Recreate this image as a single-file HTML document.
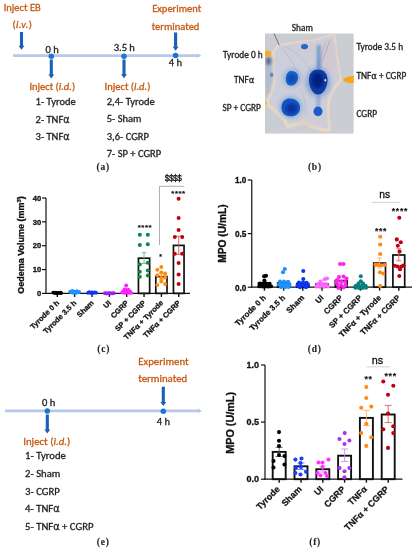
<!DOCTYPE html>
<html><head><meta charset="utf-8"><title>Figure</title>
<style>
html,body{margin:0;padding:0;background:#fff;}
#fig{position:relative;width:416px;height:550px;overflow:hidden;background:#fff;}
svg{display:block;}
</style></head>
<body><div id="fig">
<svg width="416" height="550" viewBox="0 0 416 550">
<line x1="13" y1="55.6" x2="197.8" y2="55.6" stroke="#B9C8E9" stroke-width="2.7"/>
<path d="M197.3,53.2 L201.3,55.6 L197.3,58.0 Z" fill="#B9C8E9"/>
<circle cx="51.3" cy="56.2" r="2.75" fill="#1C75CF"/>
<circle cx="124" cy="56.2" r="2.75" fill="#1C75CF"/>
<circle cx="175.6" cy="55.6" r="2.75" fill="#1C75CF"/>
<path d="M19.95,32.00 L23.05,32.00 L23.05,45.70 L24.45,45.70 L21.50,49.70 L18.55,45.70 L19.95,45.70 Z" fill="#1B60B6"/>
<path d="M49.75,59.60 L52.85,59.60 L52.85,74.40 L54.25,74.40 L51.30,78.40 L48.35,74.40 L49.75,74.40 Z" fill="#1B60B6"/>
<path d="M122.45,59.60 L125.55,59.60 L125.55,74.30 L126.95,74.30 L124.00,78.30 L121.05,74.30 L122.45,74.30 Z" fill="#1B60B6"/>
<path d="M174.05,32.50 L177.15,32.50 L177.15,46.80 L178.55,46.80 L175.60,50.80 L172.65,46.80 L174.05,46.80 Z" fill="#1B60B6"/>
<text class="cal" textLength="37.08" lengthAdjust="spacingAndGlyphs" x="3.70" y="11.20" font-size="10.5" fill="#C55A11" font-family="Carlito, 'Liberation Sans', sans-serif" font-weight="normal" text-anchor="start" stroke="#C55A11" stroke-width="0.3" >Inject EB</text>
<text class="cal" textLength="19.83" lengthAdjust="spacingAndGlyphs" x="12.40" y="27.60" font-size="10.5" fill="#C55A11" font-family="Carlito, 'Liberation Sans', sans-serif" font-weight="normal" text-anchor="start" stroke="#C55A11" stroke-width="0.3" letter-spacing="0.35">(<tspan font-style='italic'>i.v.</tspan>)</text>
<text class="cal" textLength="49.05" lengthAdjust="spacingAndGlyphs" x="152.20" y="12.30" font-size="10.5" fill="#C55A11" font-family="Carlito, 'Liberation Sans', sans-serif" font-weight="normal" text-anchor="start" stroke="#C55A11" stroke-width="0.3" >Experiment</text>
<text class="cal" textLength="47.69" lengthAdjust="spacingAndGlyphs" x="151.70" y="29.60" font-size="10.5" fill="#C55A11" font-family="Carlito, 'Liberation Sans', sans-serif" font-weight="normal" text-anchor="start" stroke="#C55A11" stroke-width="0.3" >terminated</text>
<text class="cal" textLength="13.22" lengthAdjust="spacingAndGlyphs" x="45.60" y="53.30" font-size="10.5" fill="#222222" font-family="Carlito, 'Liberation Sans', sans-serif" font-weight="normal" text-anchor="start" stroke="#222222" stroke-width="0.3" >0 h</text>
<text class="cal" textLength="21.19" lengthAdjust="spacingAndGlyphs" x="113.70" y="51.40" font-size="10.5" fill="#222222" font-family="Carlito, 'Liberation Sans', sans-serif" font-weight="normal" text-anchor="start" stroke="#222222" stroke-width="0.3" >3.5 h</text>
<text class="cal" textLength="13.22" lengthAdjust="spacingAndGlyphs" x="168.80" y="66.20" font-size="10.5" fill="#222222" font-family="Carlito, 'Liberation Sans', sans-serif" font-weight="normal" text-anchor="start" stroke="#222222" stroke-width="0.3" >4 h</text>
<text class="cal" textLength="45.73" lengthAdjust="spacingAndGlyphs" x="29.40" y="89.90" font-size="10.5" fill="#C55A11" font-family="Carlito, 'Liberation Sans', sans-serif" font-weight="normal" text-anchor="start" stroke="#C55A11" stroke-width="0.3" >Inject (<tspan font-style='italic'>i.d.</tspan>)</text>
<text class="cal" textLength="45.73" lengthAdjust="spacingAndGlyphs" x="104.60" y="90.10" font-size="10.5" fill="#C55A11" font-family="Carlito, 'Liberation Sans', sans-serif" font-weight="normal" text-anchor="start" stroke="#C55A11" stroke-width="0.3" >Inject (<tspan font-style='italic'>i.d.</tspan>)</text>
<text class="cal" textLength="40.08" lengthAdjust="spacingAndGlyphs" x="35.60" y="105.00" font-size="10.5" fill="#222222" font-family="Carlito, 'Liberation Sans', sans-serif" font-weight="normal" text-anchor="start" stroke="#222222" stroke-width="0.3" >1- Tyrode</text>
<text class="cal" textLength="34.02" lengthAdjust="spacingAndGlyphs" x="35.60" y="122.50" font-size="10.5" fill="#222222" font-family="Carlito, 'Liberation Sans', sans-serif" font-weight="normal" text-anchor="start" stroke="#222222" stroke-width="0.3" >2- TNF<tspan font-family="'DejaVu Sans', sans-serif" font-size="0.92em">&#945;</tspan></text>
<text class="cal" textLength="34.02" lengthAdjust="spacingAndGlyphs" x="35.60" y="140.00" font-size="10.5" fill="#222222" font-family="Carlito, 'Liberation Sans', sans-serif" font-weight="normal" text-anchor="start" stroke="#222222" stroke-width="0.3" >3- TNF<tspan font-family="'DejaVu Sans', sans-serif" font-size="0.92em">&#945;</tspan></text>
<text class="cal" textLength="48.02" lengthAdjust="spacingAndGlyphs" x="106.80" y="104.90" font-size="10.5" fill="#222222" font-family="Carlito, 'Liberation Sans', sans-serif" font-weight="normal" text-anchor="start" stroke="#222222" stroke-width="0.3" >2,4- Tyrode</text>
<text class="cal" textLength="34.67" lengthAdjust="spacingAndGlyphs" x="106.80" y="122.30" font-size="10.5" fill="#222222" font-family="Carlito, 'Liberation Sans', sans-serif" font-weight="normal" text-anchor="start" stroke="#222222" stroke-width="0.3" >5- Sham</text>
<text class="cal" textLength="42.11" lengthAdjust="spacingAndGlyphs" x="106.80" y="139.70" font-size="10.5" fill="#222222" font-family="Carlito, 'Liberation Sans', sans-serif" font-weight="normal" text-anchor="start" stroke="#222222" stroke-width="0.3" >3,6- CGRP</text>
<text class="cal" textLength="54.41" lengthAdjust="spacingAndGlyphs" x="106.80" y="157.10" font-size="10.5" fill="#222222" font-family="Carlito, 'Liberation Sans', sans-serif" font-weight="normal" text-anchor="start" stroke="#222222" stroke-width="0.3" >7- SP + CGRP</text>
<text x="96.60" y="169.90" font-size="9.5" fill="#222222" font-family="'Liberation Serif', serif" font-weight="bold" text-anchor="start" stroke="#222222" stroke-width="0.1" letter-spacing="0.8">(a)</text>
<line x1="5" y1="410.9" x2="198.5" y2="410.9" stroke="#B9C8E9" stroke-width="2.7"/>
<path d="M198,408.5 L202,410.9 L198,413.29999999999995 Z" fill="#B9C8E9"/>
<circle cx="47.3" cy="411" r="2.75" fill="#1C75CF"/>
<circle cx="163.3" cy="411.2" r="2.75" fill="#1C75CF"/>
<path d="M45.75,414.60 L48.85,414.60 L48.85,429.60 L50.25,429.60 L47.30,433.60 L44.35,429.60 L45.75,429.60 Z" fill="#1B60B6"/>
<path d="M161.75,386.80 L164.85,386.80 L164.85,402.00 L166.25,402.00 L163.30,406.00 L160.35,402.00 L161.75,402.00 Z" fill="#1B60B6"/>
<text class="cal" textLength="50.42" lengthAdjust="spacingAndGlyphs" x="138.20" y="364.90" font-size="10.8" fill="#C55A11" font-family="Carlito, 'Liberation Sans', sans-serif" font-weight="normal" text-anchor="start" stroke="#C55A11" stroke-width="0.3" >Experiment</text>
<text class="cal" textLength="49.03" lengthAdjust="spacingAndGlyphs" x="138.20" y="382.30" font-size="10.8" fill="#C55A11" font-family="Carlito, 'Liberation Sans', sans-serif" font-weight="normal" text-anchor="start" stroke="#C55A11" stroke-width="0.3" >terminated</text>
<text class="cal" textLength="13.22" lengthAdjust="spacingAndGlyphs" x="42.00" y="405.50" font-size="10.5" fill="#222222" font-family="Carlito, 'Liberation Sans', sans-serif" font-weight="normal" text-anchor="start" stroke="#222222" stroke-width="0.3" >0 h</text>
<text class="cal" textLength="13.22" lengthAdjust="spacingAndGlyphs" x="156.80" y="425.00" font-size="10.5" fill="#222222" font-family="Carlito, 'Liberation Sans', sans-serif" font-weight="normal" text-anchor="start" stroke="#222222" stroke-width="0.3" >4 h</text>
<text class="cal" textLength="47.02" lengthAdjust="spacingAndGlyphs" x="23.20" y="445.00" font-size="10.8" fill="#C55A11" font-family="Carlito, 'Liberation Sans', sans-serif" font-weight="normal" text-anchor="start" stroke="#C55A11" stroke-width="0.3" >Inject (<tspan font-style='italic'>i.d.</tspan>)</text>
<text class="cal" textLength="40.80" lengthAdjust="spacingAndGlyphs" x="25.10" y="459.30" font-size="10.7" fill="#222222" font-family="Carlito, 'Liberation Sans', sans-serif" font-weight="normal" text-anchor="start" stroke="#222222" stroke-width="0.3" >1- Tyrode</text>
<text class="cal" textLength="35.30" lengthAdjust="spacingAndGlyphs" x="25.10" y="476.90" font-size="10.7" fill="#222222" font-family="Carlito, 'Liberation Sans', sans-serif" font-weight="normal" text-anchor="start" stroke="#222222" stroke-width="0.3" >2- Sham</text>
<text class="cal" textLength="34.78" lengthAdjust="spacingAndGlyphs" x="25.10" y="494.50" font-size="10.7" fill="#222222" font-family="Carlito, 'Liberation Sans', sans-serif" font-weight="normal" text-anchor="start" stroke="#222222" stroke-width="0.3" >3- CGRP</text>
<text class="cal" textLength="34.61" lengthAdjust="spacingAndGlyphs" x="25.10" y="512.10" font-size="10.7" fill="#222222" font-family="Carlito, 'Liberation Sans', sans-serif" font-weight="normal" text-anchor="start" stroke="#222222" stroke-width="0.3" >4- TNF<tspan font-family="'DejaVu Sans', sans-serif" font-size="0.92em">&#945;</tspan></text>
<text class="cal" textLength="68.44" lengthAdjust="spacingAndGlyphs" x="25.10" y="529.70" font-size="10.7" fill="#222222" font-family="Carlito, 'Liberation Sans', sans-serif" font-weight="normal" text-anchor="start" stroke="#222222" stroke-width="0.3" >5- TNF<tspan font-family="'DejaVu Sans', sans-serif" font-size="0.92em">&#945;</tspan> + CGRP</text>
<text x="96.70" y="545.20" font-size="9.5" fill="#222222" font-family="'Liberation Serif', serif" font-weight="bold" text-anchor="start" stroke="#222222" stroke-width="0.1" letter-spacing="0.8">(e)</text>
<defs>
<filter id="bl1" x="-50%" y="-50%" width="200%" height="200%"><feGaussianBlur stdDeviation="1.4"/></filter>
<filter id="bl2" x="-50%" y="-50%" width="200%" height="200%"><feGaussianBlur stdDeviation="0.7"/></filter>
<filter id="bl3" x="-50%" y="-50%" width="200%" height="200%"><feGaussianBlur stdDeviation="2.4"/></filter>
<filter id="bl05" x="-20%" y="-20%" width="140%" height="140%"><feGaussianBlur stdDeviation="0.45"/></filter>
<clipPath id="pclip"><rect x="265" y="33.3" width="88.80000000000001" height="100.50000000000001"/></clipPath>
</defs>
<g clip-path="url(#pclip)">
<rect x="265" y="33.3" width="88.80000000000001" height="100.50000000000001" fill="#CACDD2"/>
<g filter="url(#bl05)">
<path d="M279,45 C290,43 300,41.5 311,40.6 C320,39 328,36 334,34 C336,48 338,64 341,79.5 C337,84 331,92 329,100 C327.5,110 328.5,120 329.5,131 C323,130 317,128.5 312,126.5 C309,124 306,122.5 303,123 C297,124 292,125.5 287.5,127 C286,122 285,120 283,118 C278,113 272,108 267,104 C269,97 272,90 274.5,82 C274,76 273.5,70 273.5,64 C273.5,59 273.2,55 273.4,52 C275,49 277,47 279,45 Z" fill="#CDCEDB"/>
<path d="M279,45 C290,43 300,41.5 311,40.6 C320,39 328,36 334,34" fill="none" stroke="#E6D6C8" stroke-width="2.0"/>
<path d="M334,34 C336,48 338,64 341,79.5" fill="none" stroke="#E6D6C8" stroke-width="2.2"/>
<path d="M341,79.5 C337,84 331,92 329,100 C327.5,110 328.5,120 329.5,131" fill="none" stroke="#E6D6C8" stroke-width="3.0"/>
<path d="M329.5,131 C323,130 317,128.5 312,126.5 C309,124 306,122.5 303,123 C297,124 292,125.5 287.5,127 C286,122 285,120 283,118 C278,113 272,108 267,104 C269,97 272,90 274.5,82" fill="none" stroke="#E6D6C8" stroke-width="3.6" stroke-linejoin="round"/>
<path d="M274.5,82 C274,76 273.5,70 273.5,64 C273.5,59 273.2,55 273.4,52 C275,49 277,47 279,45" fill="none" stroke="#E6D6C8" stroke-width="2.6"/>
<path d="M283,47 C300,44 318,41 332,37 C334,50 336,62 338,76 C330,70 318,60 300,55 C292,52 287,50 283,47 Z" fill="#D2C8D2" opacity="0.5" filter="url(#bl3)"/>
<ellipse cx="310" cy="121" rx="14" ry="5" fill="#D6CCCB" opacity="0.6" filter="url(#bl3)"/>
<ellipse cx="330" cy="58" rx="5" ry="16" fill="#D3C7CD" opacity="0.6" filter="url(#bl3)"/>
<path d="M282,49 C290,58 296,66 300,80" stroke="#9C98AE" stroke-width="0.5" fill="none" opacity="0.7"/>
<path d="M286,47 C296,52 306,60 311,72" stroke="#A09CB2" stroke-width="0.45" fill="none" opacity="0.6"/>
<path d="M300,88 C304,96 306,104 306,118" stroke="#A09CB2" stroke-width="0.45" fill="none" opacity="0.6"/>
<path d="M265,57 L272,57 L272.5,80 L270,92 L265,98 Z" fill="#B2BBCA" filter="url(#bl1)"/>
<ellipse cx="268.5" cy="61" rx="2.6" ry="4" fill="#5A6A88" filter="url(#bl1)"/>
<ellipse cx="292" cy="78" rx="8.5" ry="8.5" fill="#3C88D2" opacity="0.45" filter="url(#bl3)"/>
<ellipse cx="318" cy="82" rx="12" ry="14.5" fill="#3478CC" opacity="0.5" filter="url(#bl3)"/>
<ellipse cx="290.8" cy="107.3" rx="11" ry="10.5" fill="#3A92D8" opacity="0.55" filter="url(#bl3)"/>
<path d="M317.3,45 L320.3,45 L320.8,70 L316.8,70 Z" fill="#4A82C8" opacity="0.8" filter="url(#bl1)"/>
<path d="M316.5,94 L320,94 L320,107 L316.5,107 Z" fill="#5A8ACB" opacity="0.55" filter="url(#bl1)"/>
<path d="M291,71 C296,71 298.5,74 298,78.5 C297.5,83 294,86 290,85.5 C286.5,85 285.5,81 286,77.5 C286.5,74 288,71 291,71 Z" fill="#1560CC" filter="url(#bl2)"/>
<ellipse cx="292" cy="78.5" rx="3.6" ry="4" fill="#0B46B0" filter="url(#bl1)"/>
<path d="M318,69.5 C324,69.5 328,74 327.5,81 C327,88 323,94.5 318,94.5 C313,94.5 309.5,88 309,81 C308.5,74 312,69.5 318,69.5 Z" fill="#0E3CA6" filter="url(#bl2)"/>
<ellipse cx="317.5" cy="80.5" rx="6" ry="8" fill="#05247F" filter="url(#bl1)"/>
<path d="M289,98.5 C295,98 300,102 300,107.5 C300,113 296,116.5 290,116.3 C284.5,116 281.5,112.5 281.5,107.5 C281.5,103 284,99 289,98.5 Z" fill="#1452C4" filter="url(#bl2)"/>
<ellipse cx="291.5" cy="108.5" rx="5.5" ry="5" fill="#08329A" filter="url(#bl1)"/>
<ellipse cx="304.5" cy="46.6" rx="3.5" ry="2.7" fill="#2266C6" filter="url(#bl2)"/>
<ellipse cx="318" cy="111.4" rx="4.5" ry="4.8" fill="#1A5CC8" filter="url(#bl2)"/>
<ellipse cx="271.6" cy="74.8" rx="1.8" ry="2.2" fill="#5A90C8" filter="url(#bl2)"/>
<ellipse cx="325.3" cy="80.2" rx="0.8" ry="1.2" fill="#FFFFFF"/>
<path d="M330,40 L322,62" stroke="#8A8296" stroke-width="0.5" fill="none" opacity="0.8"/>
<path d="M326,42 L318,66" stroke="#8A8296" stroke-width="0.4" fill="none" opacity="0.6"/>
<ellipse cx="267.5" cy="53.6" rx="3.6" ry="3.2" fill="#F8AA22"/>
<path d="M342.5,80 C345,77.5 349,76 354,75.8 L354,83 C349,83.5 345,82.5 342.5,80 Z" fill="#FFA414"/>
<ellipse cx="265.6" cy="103.4" rx="1.6" ry="1.8" fill="#F2B844"/>
<line x1="274" y1="33.3" x2="279.2" y2="45.3" stroke="#4A4A4A" stroke-width="0.7"/>
</g>
</g>
<text class="cal" textLength="21.05" lengthAdjust="spacingAndGlyphs" x="291.80" y="30.60" font-size="9.3" fill="#222222" font-family="Carlito, 'Liberation Sans', sans-serif" font-weight="normal" text-anchor="start" stroke="#222222" stroke-width="0.3" >Sham</text>
<text class="cal" textLength="39.62" lengthAdjust="spacingAndGlyphs" x="223.00" y="58.00" font-size="9.3" fill="#222222" font-family="Carlito, 'Liberation Sans', sans-serif" font-weight="normal" text-anchor="start" stroke="#222222" stroke-width="0.3" >Tyrode 0 h</text>
<text class="cal" textLength="20.45" lengthAdjust="spacingAndGlyphs" x="234.00" y="83.20" font-size="9.3" fill="#222222" font-family="Carlito, 'Liberation Sans', sans-serif" font-weight="normal" text-anchor="start" stroke="#222222" stroke-width="0.3" >TNF<tspan font-family="'DejaVu Sans', sans-serif" font-size="0.92em">&#945;</tspan></text>
<text class="cal" textLength="38.50" lengthAdjust="spacingAndGlyphs" x="222.40" y="111.10" font-size="9.3" fill="#222222" font-family="Carlito, 'Liberation Sans', sans-serif" font-weight="normal" text-anchor="start" stroke="#222222" stroke-width="0.3" >SP + CGRP</text>
<text class="cal" textLength="46.69" lengthAdjust="spacingAndGlyphs" x="356.40" y="50.00" font-size="9.3" fill="#222222" font-family="Carlito, 'Liberation Sans', sans-serif" font-weight="normal" text-anchor="start" stroke="#222222" stroke-width="0.3" >Tyrode 3.5 h</text>
<text class="cal" textLength="49.89" lengthAdjust="spacingAndGlyphs" x="356.40" y="78.70" font-size="9.3" fill="#222222" font-family="Carlito, 'Liberation Sans', sans-serif" font-weight="normal" text-anchor="start" stroke="#222222" stroke-width="0.3" >TNF<tspan font-family="'DejaVu Sans', sans-serif" font-size="0.92em">&#945;</tspan> + CGRP</text>
<text class="cal" textLength="20.59" lengthAdjust="spacingAndGlyphs" x="356.40" y="116.90" font-size="9.3" fill="#222222" font-family="Carlito, 'Liberation Sans', sans-serif" font-weight="normal" text-anchor="start" stroke="#222222" stroke-width="0.3" >CGRP</text>
<text x="307.90" y="170.30" font-size="9.5" fill="#222222" font-family="'Liberation Serif', serif" font-weight="bold" text-anchor="start" stroke="#222222" stroke-width="0.1" letter-spacing="0.8">(b)</text>
<line x1="46" y1="198" x2="46" y2="294.0" stroke="#111" stroke-width="1.2"/>
<line x1="45.4" y1="293.4" x2="190" y2="293.4" stroke="#111" stroke-width="1.2"/>
<line x1="42" y1="198" x2="46" y2="198" stroke="#111" stroke-width="1.2"/>
<text x="41.20" y="200.70" font-size="7.6" fill="#111" font-family="'Liberation Sans', Arial, sans-serif" font-weight="bold" text-anchor="end" stroke="#111" stroke-width="0.3" >40</text>
<line x1="42" y1="221.85" x2="46" y2="221.85" stroke="#111" stroke-width="1.2"/>
<text x="41.20" y="224.55" font-size="7.6" fill="#111" font-family="'Liberation Sans', Arial, sans-serif" font-weight="bold" text-anchor="end" stroke="#111" stroke-width="0.3" >30</text>
<line x1="42" y1="245.7" x2="46" y2="245.7" stroke="#111" stroke-width="1.2"/>
<text x="41.20" y="248.40" font-size="7.6" fill="#111" font-family="'Liberation Sans', Arial, sans-serif" font-weight="bold" text-anchor="end" stroke="#111" stroke-width="0.3" >20</text>
<line x1="42" y1="269.55" x2="46" y2="269.55" stroke="#111" stroke-width="1.2"/>
<text x="41.20" y="272.25" font-size="7.6" fill="#111" font-family="'Liberation Sans', Arial, sans-serif" font-weight="bold" text-anchor="end" stroke="#111" stroke-width="0.3" >10</text>
<line x1="42" y1="293.4" x2="46" y2="293.4" stroke="#111" stroke-width="1.2"/>
<text x="41.20" y="296.10" font-size="7.6" fill="#111" font-family="'Liberation Sans', Arial, sans-serif" font-weight="bold" text-anchor="end" stroke="#111" stroke-width="0.3" >0</text>
<line x1="57.3" y1="293.4" x2="57.3" y2="296.9" stroke="#111" stroke-width="1.4"/>
<line x1="74.65" y1="293.4" x2="74.65" y2="296.9" stroke="#111" stroke-width="1.4"/>
<line x1="92.0" y1="293.4" x2="92.0" y2="296.9" stroke="#111" stroke-width="1.4"/>
<line x1="109.35" y1="293.4" x2="109.35" y2="296.9" stroke="#111" stroke-width="1.4"/>
<line x1="126.7" y1="293.4" x2="126.7" y2="296.9" stroke="#111" stroke-width="1.4"/>
<line x1="144.05" y1="293.4" x2="144.05" y2="296.9" stroke="#111" stroke-width="1.4"/>
<line x1="161.4" y1="293.4" x2="161.4" y2="296.9" stroke="#111" stroke-width="1.4"/>
<line x1="178.75" y1="293.4" x2="178.75" y2="296.9" stroke="#111" stroke-width="1.4"/>
<rect x="138.45" y="258.20" width="11.20" height="35.20" fill="none" stroke="#111" stroke-width="1.7"/>
<rect x="155.80" y="276.60" width="11.20" height="16.80" fill="none" stroke="#111" stroke-width="1.7"/>
<rect x="173.45" y="245.40" width="10.60" height="48.00" fill="none" stroke="#111" stroke-width="1.7"/>
<line x1="52.3" y1="292.4" x2="62.3" y2="292.4" stroke="#111" stroke-width="1"/>
<line x1="69.65" y1="292.4" x2="79.65" y2="292.4" stroke="#111" stroke-width="1"/>
<line x1="87.0" y1="292.4" x2="97.0" y2="292.4" stroke="#111" stroke-width="1"/>
<line x1="104.35" y1="292.4" x2="114.35" y2="292.4" stroke="#111" stroke-width="1"/>
<line x1="121.7" y1="292.4" x2="131.7" y2="292.4" stroke="#111" stroke-width="1"/>
<line x1="144.05" y1="252.7" x2="144.05" y2="263.5" stroke="#5DBB9A" stroke-width="0.9"/>
<line x1="141.55" y1="252.7" x2="146.55" y2="252.7" stroke="#5DBB9A" stroke-width="0.9"/>
<line x1="141.55" y1="263.5" x2="146.55" y2="263.5" stroke="#5DBB9A" stroke-width="0.9"/>
<line x1="178.75" y1="236.2" x2="178.75" y2="254.4" stroke="#E05050" stroke-width="0.9"/>
<line x1="176.25" y1="236.2" x2="181.25" y2="236.2" stroke="#E05050" stroke-width="0.9"/>
<line x1="176.25" y1="254.4" x2="181.25" y2="254.4" stroke="#E05050" stroke-width="0.9"/>
<line x1="161.4" y1="273.5" x2="161.4" y2="279.5" stroke="#FFB070" stroke-width="0.9"/>
<line x1="158.9" y1="273.5" x2="163.9" y2="273.5" stroke="#FFB070" stroke-width="0.9"/>
<line x1="158.9" y1="279.5" x2="163.9" y2="279.5" stroke="#FFB070" stroke-width="0.9"/>
<circle cx="53.30" cy="292.50" r="1.85" fill="#000000"/>
<circle cx="54.44" cy="293.00" r="1.85" fill="#000000"/>
<circle cx="55.59" cy="292.70" r="1.85" fill="#000000"/>
<circle cx="56.73" cy="293.20" r="1.85" fill="#000000"/>
<circle cx="57.87" cy="292.80" r="1.85" fill="#000000"/>
<circle cx="59.01" cy="293.00" r="1.85" fill="#000000"/>
<circle cx="60.16" cy="292.60" r="1.85" fill="#000000"/>
<circle cx="61.30" cy="293.10" r="1.85" fill="#000000"/>
<circle cx="70.15" cy="291.50" r="1.85" fill="#1E90FF"/>
<circle cx="71.28" cy="292.50" r="1.85" fill="#1E90FF"/>
<circle cx="72.40" cy="290.80" r="1.85" fill="#1E90FF"/>
<circle cx="73.53" cy="292.80" r="1.85" fill="#1E90FF"/>
<circle cx="74.65" cy="291.60" r="1.85" fill="#1E90FF"/>
<circle cx="75.78" cy="293.00" r="1.85" fill="#1E90FF"/>
<circle cx="76.90" cy="291.20" r="1.85" fill="#1E90FF"/>
<circle cx="78.03" cy="292.40" r="1.85" fill="#1E90FF"/>
<circle cx="79.15" cy="291.90" r="1.85" fill="#1E90FF"/>
<circle cx="88.00" cy="292.80" r="1.85" fill="#0A35F5"/>
<circle cx="89.33" cy="292.20" r="1.85" fill="#0A35F5"/>
<circle cx="90.67" cy="293.00" r="1.85" fill="#0A35F5"/>
<circle cx="92.00" cy="292.40" r="1.85" fill="#0A35F5"/>
<circle cx="93.33" cy="292.90" r="1.85" fill="#0A35F5"/>
<circle cx="94.67" cy="292.30" r="1.85" fill="#0A35F5"/>
<circle cx="96.00" cy="292.70" r="1.85" fill="#0A35F5"/>
<circle cx="104.85" cy="293.20" r="1.85" fill="#A21EF2"/>
<circle cx="106.35" cy="293.40" r="1.85" fill="#A21EF2"/>
<circle cx="107.85" cy="293.30" r="1.85" fill="#A21EF2"/>
<circle cx="109.35" cy="293.20" r="1.85" fill="#A21EF2"/>
<circle cx="110.85" cy="293.40" r="1.85" fill="#A21EF2"/>
<circle cx="112.35" cy="293.30" r="1.85" fill="#A21EF2"/>
<circle cx="113.85" cy="293.20" r="1.85" fill="#A21EF2"/>
<circle cx="122.20" cy="292.50" r="1.85" fill="#FF22FF"/>
<circle cx="123.49" cy="291.00" r="1.85" fill="#FF22FF"/>
<circle cx="124.77" cy="293.00" r="1.85" fill="#FF22FF"/>
<circle cx="126.06" cy="290.00" r="1.85" fill="#FF22FF"/>
<circle cx="127.34" cy="292.20" r="1.85" fill="#FF22FF"/>
<circle cx="128.63" cy="292.80" r="1.85" fill="#FF22FF"/>
<circle cx="129.91" cy="291.50" r="1.85" fill="#FF22FF"/>
<circle cx="131.20" cy="293.00" r="1.85" fill="#FF22FF"/>
<circle cx="126.20" cy="285.60" r="2.0" fill="#FF22FF"/>
<circle cx="124.70" cy="289.60" r="2.0" fill="#FF22FF"/>
<circle cx="128.20" cy="289.80" r="2.0" fill="#FF22FF"/>
<circle cx="123.20" cy="291.50" r="2.0" fill="#FF22FF"/>
<circle cx="129.70" cy="291.50" r="2.0" fill="#FF22FF"/>
<circle cx="139.80" cy="234.80" r="2.0" fill="#0B8A3E"/>
<circle cx="147.80" cy="234.80" r="2.0" fill="#0B8A3E"/>
<circle cx="139.80" cy="245.00" r="2.0" fill="#0B8A3E"/>
<circle cx="147.80" cy="244.30" r="2.0" fill="#0B8A3E"/>
<circle cx="139.80" cy="264.40" r="2.0" fill="#0B8A3E"/>
<circle cx="147.80" cy="262.80" r="2.0" fill="#0B8A3E"/>
<circle cx="139.80" cy="271.80" r="2.0" fill="#0B8A3E"/>
<circle cx="147.80" cy="270.60" r="2.0" fill="#0B8A3E"/>
<circle cx="139.80" cy="276.80" r="2.0" fill="#0B8A3E"/>
<circle cx="147.80" cy="275.50" r="2.0" fill="#0B8A3E"/>
<circle cx="161.30" cy="267.00" r="2.0" fill="#FF8A10"/>
<circle cx="157.30" cy="269.70" r="2.0" fill="#FF8A10"/>
<circle cx="161.30" cy="272.60" r="2.0" fill="#FF8A10"/>
<circle cx="165.10" cy="273.50" r="2.0" fill="#FF8A10"/>
<circle cx="157.30" cy="275.20" r="2.0" fill="#FF8A10"/>
<circle cx="161.30" cy="277.70" r="2.0" fill="#FF8A10"/>
<circle cx="165.10" cy="277.50" r="2.0" fill="#FF8A10"/>
<circle cx="161.30" cy="281.40" r="2.0" fill="#FF8A10"/>
<circle cx="157.30" cy="285.10" r="2.0" fill="#FF8A10"/>
<circle cx="165.10" cy="284.00" r="2.0" fill="#FF8A10"/>
<circle cx="178.60" cy="198.70" r="2.0" fill="#C00010"/>
<circle cx="178.60" cy="218.00" r="2.0" fill="#C00010"/>
<circle cx="178.60" cy="230.00" r="2.0" fill="#C00010"/>
<circle cx="174.80" cy="236.90" r="2.0" fill="#C00010"/>
<circle cx="182.20" cy="236.90" r="2.0" fill="#C00010"/>
<circle cx="174.80" cy="253.70" r="2.0" fill="#C00010"/>
<circle cx="182.20" cy="253.70" r="2.0" fill="#C00010"/>
<circle cx="178.60" cy="263.00" r="2.0" fill="#C00010"/>
<circle cx="178.60" cy="274.40" r="2.0" fill="#C00010"/>
<circle cx="178.60" cy="284.00" r="2.0" fill="#C00010"/>
<text x="144.93" y="230.12" font-size="7.8" fill="#111" font-family="'Liberation Sans', Arial, sans-serif" font-weight="bold" text-anchor="middle" stroke="#111" stroke-width="0.15" letter-spacing="0.55">****</text>
<text x="160.60" y="258.56" font-size="7.0" fill="#111" font-family="'Liberation Sans', Arial, sans-serif" font-weight="bold" text-anchor="middle" stroke="#111" stroke-width="0.15" letter-spacing="0.0">*</text>
<text x="178.47" y="196.12" font-size="7.8" fill="#111" font-family="'Liberation Sans', Arial, sans-serif" font-weight="bold" text-anchor="middle" stroke="#111" stroke-width="0.15" letter-spacing="0.55">****</text>
<path d="M159.5,245 L159.5,186.3 L184.2,186.3" fill="none" stroke="#999" stroke-width="0.8"/>
<text x="173.10" y="180.90" font-size="8.2" fill="#111" font-family="'Liberation Sans', Arial, sans-serif" font-weight="normal" text-anchor="middle" stroke="#111" stroke-width="0.3" letter-spacing="-0.35">$$$$</text>
<text transform="translate(20.30,245.00) rotate(-90)" font-size="9" font-family="'Liberation Sans', Arial, sans-serif" font-weight="bold" text-anchor="middle" fill="#111" stroke="#111" stroke-width="0.3" dy="3.24">Oedema Volume (mm<tspan font-size='6' dy='-3'>3</tspan><tspan dy='3'>)</tspan></text>
<text transform="translate(55.80,299.60) rotate(-45)" font-size="7.5" font-family="'Liberation Sans', Arial, sans-serif" font-weight="bold" text-anchor="end" fill="#111" stroke="#111" stroke-width="0.25" dy="5.40">Tyrode 0 h</text>
<text transform="translate(73.15,299.60) rotate(-45)" font-size="7.5" font-family="'Liberation Sans', Arial, sans-serif" font-weight="bold" text-anchor="end" fill="#111" stroke="#111" stroke-width="0.25" dy="5.40">Tyrode 3.5 h</text>
<text transform="translate(90.50,299.60) rotate(-45)" font-size="7.5" font-family="'Liberation Sans', Arial, sans-serif" font-weight="bold" text-anchor="end" fill="#111" stroke="#111" stroke-width="0.25" dy="5.40">Sham</text>
<text transform="translate(107.85,299.60) rotate(-45)" font-size="7.5" font-family="'Liberation Sans', Arial, sans-serif" font-weight="bold" text-anchor="end" fill="#111" stroke="#111" stroke-width="0.25" dy="5.40">UI</text>
<text transform="translate(125.20,299.60) rotate(-45)" font-size="7.5" font-family="'Liberation Sans', Arial, sans-serif" font-weight="bold" text-anchor="end" fill="#111" stroke="#111" stroke-width="0.25" dy="5.40">CGRP</text>
<text transform="translate(142.55,299.60) rotate(-45)" font-size="7.5" font-family="'Liberation Sans', Arial, sans-serif" font-weight="bold" text-anchor="end" fill="#111" stroke="#111" stroke-width="0.25" dy="5.40">SP + CGRP</text>
<text transform="translate(159.90,299.60) rotate(-45)" font-size="7.5" font-family="'Liberation Sans', Arial, sans-serif" font-weight="bold" text-anchor="end" fill="#111" stroke="#111" stroke-width="0.25" dy="5.40">TNF&#945; + Tyrode</text>
<text transform="translate(177.25,299.60) rotate(-45)" font-size="7.5" font-family="'Liberation Sans', Arial, sans-serif" font-weight="bold" text-anchor="end" fill="#111" stroke="#111" stroke-width="0.25" dy="5.40">TNF&#945; + CGRP</text>
<text x="97.20" y="351.50" font-size="9.5" fill="#222222" font-family="'Liberation Serif', serif" font-weight="bold" text-anchor="start" stroke="#222222" stroke-width="0.1" letter-spacing="0.8">(c)</text>
<line x1="251.75" y1="180.0" x2="251.75" y2="287.8" stroke="#111" stroke-width="1.2"/>
<line x1="251.15" y1="287.2" x2="412" y2="287.2" stroke="#111" stroke-width="1.2"/>
<line x1="247.75" y1="180.0" x2="251.75" y2="180.0" stroke="#111" stroke-width="1.2"/>
<text x="246.30" y="183.48" font-size="8.2" fill="#111" font-family="'Liberation Sans', Arial, sans-serif" font-weight="bold" text-anchor="end" stroke="#111" stroke-width="0.3" >1.0</text>
<line x1="247.75" y1="233.6" x2="251.75" y2="233.6" stroke="#111" stroke-width="1.2"/>
<text x="246.30" y="237.08" font-size="8.2" fill="#111" font-family="'Liberation Sans', Arial, sans-serif" font-weight="bold" text-anchor="end" stroke="#111" stroke-width="0.3" >0.5</text>
<line x1="247.75" y1="287.2" x2="251.75" y2="287.2" stroke="#111" stroke-width="1.2"/>
<text x="246.30" y="290.68" font-size="8.2" fill="#111" font-family="'Liberation Sans', Arial, sans-serif" font-weight="bold" text-anchor="end" stroke="#111" stroke-width="0.3" >0.0</text>
<line x1="264.4" y1="287.2" x2="264.4" y2="290.7" stroke="#111" stroke-width="1.4"/>
<line x1="283.59999999999997" y1="287.2" x2="283.59999999999997" y2="290.7" stroke="#111" stroke-width="1.4"/>
<line x1="302.79999999999995" y1="287.2" x2="302.79999999999995" y2="290.7" stroke="#111" stroke-width="1.4"/>
<line x1="322.0" y1="287.2" x2="322.0" y2="290.7" stroke="#111" stroke-width="1.4"/>
<line x1="341.2" y1="287.2" x2="341.2" y2="290.7" stroke="#111" stroke-width="1.4"/>
<line x1="360.4" y1="287.2" x2="360.4" y2="290.7" stroke="#111" stroke-width="1.4"/>
<line x1="379.59999999999997" y1="287.2" x2="379.59999999999997" y2="290.7" stroke="#111" stroke-width="1.4"/>
<line x1="398.79999999999995" y1="287.2" x2="398.79999999999995" y2="290.7" stroke="#111" stroke-width="1.4"/>
<rect x="258.50" y="283.00" width="11.80" height="4.20" fill="none" stroke="#111" stroke-width="1.7"/>
<rect x="277.70" y="283.00" width="11.80" height="4.20" fill="none" stroke="#111" stroke-width="1.7"/>
<rect x="296.90" y="283.50" width="11.80" height="3.70" fill="none" stroke="#111" stroke-width="1.7"/>
<rect x="316.10" y="284.00" width="11.80" height="3.20" fill="none" stroke="#111" stroke-width="1.7"/>
<rect x="335.30" y="280.60" width="11.80" height="6.60" fill="none" stroke="#111" stroke-width="1.7"/>
<rect x="354.50" y="286.00" width="11.80" height="1.20" fill="none" stroke="#111" stroke-width="1.7"/>
<rect x="373.70" y="263.10" width="11.80" height="24.10" fill="none" stroke="#111" stroke-width="1.7"/>
<rect x="392.90" y="255.00" width="11.80" height="32.20" fill="none" stroke="#111" stroke-width="1.7"/>
<circle cx="264.10" cy="276.30" r="2.05" fill="#000000"/>
<circle cx="266.00" cy="275.70" r="2.05" fill="#000000"/>
<circle cx="264.40" cy="280.50" r="2.05" fill="#000000"/>
<circle cx="260.00" cy="283.50" r="2.05" fill="#000000"/>
<circle cx="263.00" cy="283.50" r="2.05" fill="#000000"/>
<circle cx="266.00" cy="283.50" r="2.05" fill="#000000"/>
<circle cx="269.50" cy="283.80" r="2.05" fill="#000000"/>
<circle cx="259.50" cy="286.30" r="2.05" fill="#000000"/>
<circle cx="262.50" cy="286.50" r="2.05" fill="#000000"/>
<circle cx="265.50" cy="286.50" r="2.05" fill="#000000"/>
<circle cx="268.50" cy="286.50" r="2.05" fill="#000000"/>
<circle cx="271.00" cy="286.30" r="2.05" fill="#000000"/>
<circle cx="284.80" cy="269.00" r="2.05" fill="#1E90FF"/>
<circle cx="283.00" cy="272.20" r="2.05" fill="#1E90FF"/>
<circle cx="280.00" cy="281.50" r="2.05" fill="#1E90FF"/>
<circle cx="284.00" cy="281.50" r="2.05" fill="#1E90FF"/>
<circle cx="288.00" cy="281.80" r="2.05" fill="#1E90FF"/>
<circle cx="279.00" cy="284.50" r="2.05" fill="#1E90FF"/>
<circle cx="282.50" cy="284.50" r="2.05" fill="#1E90FF"/>
<circle cx="286.00" cy="284.50" r="2.05" fill="#1E90FF"/>
<circle cx="289.50" cy="284.50" r="2.05" fill="#1E90FF"/>
<circle cx="281.00" cy="287.00" r="2.05" fill="#1E90FF"/>
<circle cx="285.00" cy="287.20" r="2.05" fill="#1E90FF"/>
<circle cx="288.50" cy="287.00" r="2.05" fill="#1E90FF"/>
<circle cx="303.30" cy="271.00" r="2.05" fill="#0A35F5"/>
<circle cx="303.30" cy="279.00" r="2.05" fill="#0A35F5"/>
<circle cx="299.00" cy="282.50" r="2.05" fill="#0A35F5"/>
<circle cx="303.00" cy="282.50" r="2.05" fill="#0A35F5"/>
<circle cx="306.50" cy="282.80" r="2.05" fill="#0A35F5"/>
<circle cx="297.50" cy="285.50" r="2.05" fill="#0A35F5"/>
<circle cx="301.00" cy="285.50" r="2.05" fill="#0A35F5"/>
<circle cx="304.50" cy="285.50" r="2.05" fill="#0A35F5"/>
<circle cx="308.00" cy="285.50" r="2.05" fill="#0A35F5"/>
<circle cx="300.00" cy="287.30" r="2.05" fill="#0A35F5"/>
<circle cx="306.00" cy="287.30" r="2.05" fill="#0A35F5"/>
<circle cx="324.60" cy="279.30" r="2.05" fill="#FF66FF"/>
<circle cx="327.00" cy="278.50" r="2.05" fill="#FF66FF"/>
<circle cx="320.50" cy="281.50" r="2.05" fill="#FF66FF"/>
<circle cx="318.00" cy="284.00" r="2.05" fill="#FF66FF"/>
<circle cx="322.00" cy="284.00" r="2.05" fill="#FF66FF"/>
<circle cx="326.00" cy="284.00" r="2.05" fill="#FF66FF"/>
<circle cx="316.50" cy="286.50" r="2.05" fill="#FF66FF"/>
<circle cx="320.00" cy="286.80" r="2.05" fill="#FF66FF"/>
<circle cx="324.00" cy="286.80" r="2.05" fill="#FF66FF"/>
<circle cx="328.00" cy="286.50" r="2.05" fill="#FF66FF"/>
<circle cx="340.10" cy="264.00" r="2.05" fill="#FF22EE"/>
<circle cx="343.50" cy="264.00" r="2.05" fill="#FF22EE"/>
<circle cx="339.00" cy="277.00" r="2.05" fill="#FF22EE"/>
<circle cx="343.50" cy="276.50" r="2.05" fill="#FF22EE"/>
<circle cx="346.50" cy="278.50" r="2.05" fill="#FF22EE"/>
<circle cx="337.00" cy="280.00" r="2.05" fill="#FF22EE"/>
<circle cx="341.00" cy="281.50" r="2.05" fill="#FF22EE"/>
<circle cx="345.00" cy="282.00" r="2.05" fill="#FF22EE"/>
<circle cx="337.50" cy="284.50" r="2.05" fill="#FF22EE"/>
<circle cx="341.30" cy="285.00" r="2.05" fill="#FF22EE"/>
<circle cx="345.50" cy="285.50" r="2.05" fill="#FF22EE"/>
<circle cx="338.50" cy="288.00" r="2.05" fill="#FF22EE"/>
<circle cx="343.50" cy="287.50" r="2.05" fill="#FF22EE"/>
<circle cx="336.50" cy="282.50" r="2.05" fill="#FF22EE"/>
<circle cx="360.80" cy="276.30" r="2.05" fill="#0A8080"/>
<circle cx="360.80" cy="281.20" r="2.05" fill="#0A8080"/>
<circle cx="358.50" cy="283.50" r="2.05" fill="#0A8080"/>
<circle cx="363.00" cy="283.50" r="2.05" fill="#0A8080"/>
<circle cx="356.00" cy="285.80" r="2.05" fill="#0A8080"/>
<circle cx="359.50" cy="286.00" r="2.05" fill="#0A8080"/>
<circle cx="362.50" cy="286.00" r="2.05" fill="#0A8080"/>
<circle cx="365.50" cy="285.80" r="2.05" fill="#0A8080"/>
<circle cx="355.50" cy="287.80" r="2.05" fill="#0A8080"/>
<circle cx="359.00" cy="288.00" r="2.05" fill="#0A8080"/>
<circle cx="362.50" cy="288.00" r="2.05" fill="#0A8080"/>
<circle cx="366.00" cy="287.80" r="2.05" fill="#0A8080"/>
<line x1="379.59999999999997" y1="258.0" x2="379.59999999999997" y2="268.0" stroke="#FFB070" stroke-width="0.9"/>
<line x1="377.09999999999997" y1="258.0" x2="382.09999999999997" y2="258.0" stroke="#FFB070" stroke-width="0.9"/>
<line x1="377.09999999999997" y1="268.0" x2="382.09999999999997" y2="268.0" stroke="#FFB070" stroke-width="0.9"/>
<line x1="398.79999999999995" y1="248.8" x2="398.79999999999995" y2="260.8" stroke="#E06060" stroke-width="0.9"/>
<line x1="396.29999999999995" y1="248.8" x2="401.29999999999995" y2="248.8" stroke="#E06060" stroke-width="0.9"/>
<line x1="396.29999999999995" y1="260.8" x2="401.29999999999995" y2="260.8" stroke="#E06060" stroke-width="0.9"/>
<circle cx="380.20" cy="236.70" r="2.05" fill="#FF8A10"/>
<circle cx="380.20" cy="244.50" r="2.05" fill="#FF8A10"/>
<circle cx="380.20" cy="254.00" r="2.05" fill="#FF8A10"/>
<circle cx="375.50" cy="264.90" r="2.05" fill="#FF8A10"/>
<circle cx="378.00" cy="264.90" r="2.05" fill="#FF8A10"/>
<circle cx="381.00" cy="265.20" r="2.05" fill="#FF8A10"/>
<circle cx="384.50" cy="265.00" r="2.05" fill="#FF8A10"/>
<circle cx="380.00" cy="272.30" r="2.05" fill="#FF8A10"/>
<circle cx="383.30" cy="273.50" r="2.05" fill="#FF8A10"/>
<circle cx="380.20" cy="286.00" r="2.05" fill="#FF8A10"/>
<circle cx="399.30" cy="217.80" r="2.05" fill="#C00010"/>
<circle cx="396.80" cy="239.40" r="2.05" fill="#C00010"/>
<circle cx="400.80" cy="242.20" r="2.05" fill="#C00010"/>
<circle cx="397.80" cy="245.80" r="2.05" fill="#C00010"/>
<circle cx="399.60" cy="251.60" r="2.05" fill="#C00010"/>
<circle cx="394.70" cy="265.70" r="2.05" fill="#C00010"/>
<circle cx="397.70" cy="266.50" r="2.05" fill="#C00010"/>
<circle cx="401.50" cy="266.50" r="2.05" fill="#C00010"/>
<circle cx="403.50" cy="265.50" r="2.05" fill="#C00010"/>
<circle cx="400.00" cy="269.20" r="2.05" fill="#C00010"/>
<circle cx="399.30" cy="276.00" r="2.05" fill="#C00010"/>
<text x="381.08" y="233.79" font-size="8.6" fill="#111" font-family="'Liberation Sans', Arial, sans-serif" font-weight="bold" text-anchor="middle" stroke="#111" stroke-width="0.15" letter-spacing="0.75">***</text>
<text x="399.93" y="214.49" font-size="8.6" fill="#111" font-family="'Liberation Sans', Arial, sans-serif" font-weight="bold" text-anchor="middle" stroke="#111" stroke-width="0.15" letter-spacing="0.75">****</text>
<line x1="372" y1="202.4" x2="400.5" y2="202.4" stroke="#C8C8C8" stroke-width="0.8"/>
<text x="384.70" y="198.40" font-size="10.3" fill="#111" font-family="'Liberation Sans', Arial, sans-serif" font-weight="normal" text-anchor="middle" stroke="#111" stroke-width="0.3" >ns</text>
<text transform="translate(222.40,233.60) rotate(-90)" font-size="10.2" font-family="'Liberation Sans', Arial, sans-serif" font-weight="bold" text-anchor="middle" fill="#111" stroke="#111" stroke-width="0.3" dy="3.67">MPO (U/mL)</text>
<text transform="translate(262.40,294.20) rotate(-45)" font-size="8.0" font-family="'Liberation Sans', Arial, sans-serif" font-weight="bold" text-anchor="end" fill="#111" stroke="#111" stroke-width="0.25" dy="5.76">Tyrode 0 h</text>
<text transform="translate(281.60,294.20) rotate(-45)" font-size="8.0" font-family="'Liberation Sans', Arial, sans-serif" font-weight="bold" text-anchor="end" fill="#111" stroke="#111" stroke-width="0.25" dy="5.76">Tyrode 3.5 h</text>
<text transform="translate(300.80,294.20) rotate(-45)" font-size="8.0" font-family="'Liberation Sans', Arial, sans-serif" font-weight="bold" text-anchor="end" fill="#111" stroke="#111" stroke-width="0.25" dy="5.76">Sham</text>
<text transform="translate(320.00,294.20) rotate(-45)" font-size="8.0" font-family="'Liberation Sans', Arial, sans-serif" font-weight="bold" text-anchor="end" fill="#111" stroke="#111" stroke-width="0.25" dy="5.76">UI</text>
<text transform="translate(339.20,294.20) rotate(-45)" font-size="8.0" font-family="'Liberation Sans', Arial, sans-serif" font-weight="bold" text-anchor="end" fill="#111" stroke="#111" stroke-width="0.25" dy="5.76">CGRP</text>
<text transform="translate(358.40,294.20) rotate(-45)" font-size="8.0" font-family="'Liberation Sans', Arial, sans-serif" font-weight="bold" text-anchor="end" fill="#111" stroke="#111" stroke-width="0.25" dy="5.76">SP + CGRP</text>
<text transform="translate(377.60,294.20) rotate(-45)" font-size="8.0" font-family="'Liberation Sans', Arial, sans-serif" font-weight="bold" text-anchor="end" fill="#111" stroke="#111" stroke-width="0.25" dy="5.76">TNF&#945; + Tyrode</text>
<text transform="translate(396.80,294.20) rotate(-45)" font-size="8.0" font-family="'Liberation Sans', Arial, sans-serif" font-weight="bold" text-anchor="end" fill="#111" stroke="#111" stroke-width="0.25" dy="5.76">TNF&#945; + CGRP</text>
<text x="307.80" y="352.00" font-size="9.5" fill="#222222" font-family="'Liberation Serif', serif" font-weight="bold" text-anchor="start" stroke="#222222" stroke-width="0.1" letter-spacing="0.8">(d)</text>
<line x1="265" y1="365.0" x2="265" y2="479.8" stroke="#111" stroke-width="1.2"/>
<line x1="264.4" y1="479.2" x2="402.5" y2="479.2" stroke="#111" stroke-width="1.2"/>
<line x1="261" y1="365.0" x2="265" y2="365.0" stroke="#111" stroke-width="1.2"/>
<text x="259.10" y="368.11" font-size="9.0" fill="#111" font-family="'Liberation Sans', Arial, sans-serif" font-weight="bold" text-anchor="end" stroke="#111" stroke-width="0.3" >1.0</text>
<line x1="261" y1="422.09999999999997" x2="265" y2="422.09999999999997" stroke="#111" stroke-width="1.2"/>
<text x="259.10" y="425.21" font-size="9.0" fill="#111" font-family="'Liberation Sans', Arial, sans-serif" font-weight="bold" text-anchor="end" stroke="#111" stroke-width="0.3" >0.5</text>
<line x1="261" y1="479.2" x2="265" y2="479.2" stroke="#111" stroke-width="1.2"/>
<text x="259.10" y="482.31" font-size="9.0" fill="#111" font-family="'Liberation Sans', Arial, sans-serif" font-weight="bold" text-anchor="end" stroke="#111" stroke-width="0.3" >0.0</text>
<line x1="279.2" y1="479.2" x2="279.2" y2="482.7" stroke="#111" stroke-width="1.4"/>
<line x1="301.0" y1="479.2" x2="301.0" y2="482.7" stroke="#111" stroke-width="1.4"/>
<line x1="322.8" y1="479.2" x2="322.8" y2="482.7" stroke="#111" stroke-width="1.4"/>
<line x1="344.6" y1="479.2" x2="344.6" y2="482.7" stroke="#111" stroke-width="1.4"/>
<line x1="366.4" y1="479.2" x2="366.4" y2="482.7" stroke="#111" stroke-width="1.4"/>
<line x1="388.2" y1="479.2" x2="388.2" y2="482.7" stroke="#111" stroke-width="1.4"/>
<rect x="272.70" y="451.90" width="13.00" height="27.30" fill="none" stroke="#111" stroke-width="1.9"/>
<rect x="294.50" y="466.30" width="13.00" height="12.90" fill="none" stroke="#111" stroke-width="1.9"/>
<rect x="316.30" y="469.20" width="13.00" height="10.00" fill="none" stroke="#111" stroke-width="1.9"/>
<rect x="338.10" y="455.70" width="13.00" height="23.50" fill="none" stroke="#111" stroke-width="1.9"/>
<rect x="359.90" y="417.90" width="13.00" height="61.30" fill="none" stroke="#111" stroke-width="1.9"/>
<rect x="381.70" y="414.50" width="13.00" height="64.70" fill="none" stroke="#111" stroke-width="1.9"/>
<line x1="279.2" y1="447.3" x2="279.2" y2="456.5" stroke="#555555" stroke-width="0.9"/>
<line x1="275.7" y1="447.3" x2="282.7" y2="447.3" stroke="#555555" stroke-width="0.9"/>
<line x1="275.7" y1="456.5" x2="282.7" y2="456.5" stroke="#555555" stroke-width="0.9"/>
<line x1="301.0" y1="463.0" x2="301.0" y2="469.5" stroke="#6A7AFF" stroke-width="0.9"/>
<line x1="297.5" y1="463.0" x2="304.5" y2="463.0" stroke="#6A7AFF" stroke-width="0.9"/>
<line x1="297.5" y1="469.5" x2="304.5" y2="469.5" stroke="#6A7AFF" stroke-width="0.9"/>
<line x1="322.8" y1="466.0" x2="322.8" y2="472.0" stroke="#FF88FF" stroke-width="0.9"/>
<line x1="319.3" y1="466.0" x2="326.3" y2="466.0" stroke="#FF88FF" stroke-width="0.9"/>
<line x1="319.3" y1="472.0" x2="326.3" y2="472.0" stroke="#FF88FF" stroke-width="0.9"/>
<line x1="344.6" y1="449.0" x2="344.6" y2="461.5" stroke="#D08AF0" stroke-width="0.9"/>
<line x1="341.1" y1="449.0" x2="348.1" y2="449.0" stroke="#D08AF0" stroke-width="0.9"/>
<line x1="341.1" y1="461.5" x2="348.1" y2="461.5" stroke="#D08AF0" stroke-width="0.9"/>
<line x1="366.4" y1="410.3" x2="366.4" y2="425.5" stroke="#FFB070" stroke-width="0.9"/>
<line x1="362.9" y1="410.3" x2="369.9" y2="410.3" stroke="#FFB070" stroke-width="0.9"/>
<line x1="362.9" y1="425.5" x2="369.9" y2="425.5" stroke="#FFB070" stroke-width="0.9"/>
<line x1="388.2" y1="405.4" x2="388.2" y2="422.6" stroke="#E06060" stroke-width="0.9"/>
<line x1="384.7" y1="405.4" x2="391.7" y2="405.4" stroke="#E06060" stroke-width="0.9"/>
<line x1="384.7" y1="422.6" x2="391.7" y2="422.6" stroke="#E06060" stroke-width="0.9"/>
<circle cx="279.00" cy="432.10" r="2.05" fill="#000000"/>
<circle cx="279.00" cy="440.80" r="2.05" fill="#000000"/>
<circle cx="279.00" cy="446.00" r="2.05" fill="#000000"/>
<circle cx="273.50" cy="461.00" r="2.05" fill="#000000"/>
<circle cx="273.50" cy="467.50" r="2.05" fill="#000000"/>
<circle cx="284.50" cy="456.00" r="2.05" fill="#000000"/>
<circle cx="284.50" cy="464.50" r="2.05" fill="#000000"/>
<circle cx="279.00" cy="455.00" r="2.05" fill="#000000"/>
<circle cx="295.40" cy="459.60" r="2.05" fill="#1A3CFF"/>
<circle cx="301.50" cy="458.50" r="2.05" fill="#1A3CFF"/>
<circle cx="300.50" cy="463.00" r="2.05" fill="#1A3CFF"/>
<circle cx="296.00" cy="468.00" r="2.05" fill="#1A3CFF"/>
<circle cx="301.00" cy="467.00" r="2.05" fill="#1A3CFF"/>
<circle cx="306.00" cy="471.70" r="2.05" fill="#1A3CFF"/>
<circle cx="295.40" cy="473.00" r="2.05" fill="#1A3CFF"/>
<circle cx="300.50" cy="474.50" r="2.05" fill="#1A3CFF"/>
<circle cx="328.50" cy="459.60" r="2.05" fill="#FF33FF"/>
<circle cx="322.50" cy="462.50" r="2.05" fill="#FF33FF"/>
<circle cx="318.50" cy="462.50" r="2.05" fill="#FF33FF"/>
<circle cx="322.50" cy="467.00" r="2.05" fill="#FF33FF"/>
<circle cx="317.50" cy="473.00" r="2.05" fill="#FF33FF"/>
<circle cx="325.50" cy="473.00" r="2.05" fill="#FF33FF"/>
<circle cx="320.50" cy="475.50" r="2.05" fill="#FF33FF"/>
<circle cx="327.00" cy="476.00" r="2.05" fill="#FF33FF"/>
<circle cx="344.70" cy="433.10" r="2.05" fill="#A833E8"/>
<circle cx="339.50" cy="439.00" r="2.05" fill="#A833E8"/>
<circle cx="349.40" cy="440.50" r="2.05" fill="#A833E8"/>
<circle cx="344.50" cy="444.00" r="2.05" fill="#A833E8"/>
<circle cx="339.50" cy="468.00" r="2.05" fill="#A833E8"/>
<circle cx="349.40" cy="468.00" r="2.05" fill="#A833E8"/>
<circle cx="344.50" cy="471.20" r="2.05" fill="#A833E8"/>
<circle cx="344.50" cy="477.40" r="2.05" fill="#A833E8"/>
<circle cx="366.30" cy="387.00" r="2.05" fill="#FF8A10"/>
<circle cx="366.30" cy="398.00" r="2.05" fill="#FF8A10"/>
<circle cx="361.20" cy="407.80" r="2.05" fill="#FF8A10"/>
<circle cx="371.30" cy="406.60" r="2.05" fill="#FF8A10"/>
<circle cx="366.30" cy="423.80" r="2.05" fill="#FF8A10"/>
<circle cx="361.20" cy="433.10" r="2.05" fill="#FF8A10"/>
<circle cx="371.30" cy="437.30" r="2.05" fill="#FF8A10"/>
<circle cx="366.30" cy="445.90" r="2.05" fill="#FF8A10"/>
<circle cx="383.30" cy="381.50" r="2.05" fill="#C00010"/>
<circle cx="393.30" cy="385.70" r="2.05" fill="#C00010"/>
<circle cx="388.00" cy="394.80" r="2.05" fill="#C00010"/>
<circle cx="388.00" cy="413.50" r="2.05" fill="#C00010"/>
<circle cx="383.30" cy="429.20" r="2.05" fill="#C00010"/>
<circle cx="393.30" cy="426.30" r="2.05" fill="#C00010"/>
<circle cx="393.30" cy="433.10" r="2.05" fill="#C00010"/>
<circle cx="388.00" cy="447.90" r="2.05" fill="#C00010"/>
<text x="368.60" y="382.10" font-size="8.8" fill="#111" font-family="'Liberation Sans', Arial, sans-serif" font-weight="bold" text-anchor="middle" stroke="#111" stroke-width="0.15" letter-spacing="0.7">**</text>
<text x="390.65" y="379.30" font-size="8.8" fill="#111" font-family="'Liberation Sans', Arial, sans-serif" font-weight="bold" text-anchor="middle" stroke="#111" stroke-width="0.15" letter-spacing="0.7">***</text>
<line x1="366.4" y1="366.8" x2="390.2" y2="366.8" stroke="#C8C8C8" stroke-width="0.8"/>
<text x="377.50" y="363.80" font-size="10.8" fill="#111" font-family="'Liberation Sans', Arial, sans-serif" font-weight="normal" text-anchor="middle" stroke="#111" stroke-width="0.3" >ns</text>
<text transform="translate(230.30,422.90) rotate(-90)" font-size="10.8" font-family="'Liberation Sans', Arial, sans-serif" font-weight="bold" text-anchor="middle" fill="#111" stroke="#111" stroke-width="0.3" dy="3.89">MPO (U/mL)</text>
<text transform="translate(275.90,485.20) rotate(-45)" font-size="8.9" font-family="'Liberation Sans', Arial, sans-serif" font-weight="bold" text-anchor="end" fill="#111" stroke="#111" stroke-width="0.25" dy="6.41">Tyrode</text>
<text transform="translate(297.70,485.20) rotate(-45)" font-size="8.9" font-family="'Liberation Sans', Arial, sans-serif" font-weight="bold" text-anchor="end" fill="#111" stroke="#111" stroke-width="0.25" dy="6.41">Sham</text>
<text transform="translate(319.50,485.20) rotate(-45)" font-size="8.9" font-family="'Liberation Sans', Arial, sans-serif" font-weight="bold" text-anchor="end" fill="#111" stroke="#111" stroke-width="0.25" dy="6.41">UI</text>
<text transform="translate(341.30,485.20) rotate(-45)" font-size="8.9" font-family="'Liberation Sans', Arial, sans-serif" font-weight="bold" text-anchor="end" fill="#111" stroke="#111" stroke-width="0.25" dy="6.41">CGRP</text>
<text transform="translate(363.10,485.20) rotate(-45)" font-size="8.9" font-family="'Liberation Sans', Arial, sans-serif" font-weight="bold" text-anchor="end" fill="#111" stroke="#111" stroke-width="0.25" dy="6.41">TNF&#945;</text>
<text transform="translate(384.90,485.20) rotate(-45)" font-size="8.9" font-family="'Liberation Sans', Arial, sans-serif" font-weight="bold" text-anchor="end" fill="#111" stroke="#111" stroke-width="0.25" dy="6.41">TNF&#945; + CGRP</text>
<text x="309.20" y="544.80" font-size="9.5" fill="#222222" font-family="'Liberation Serif', serif" font-weight="bold" text-anchor="start" stroke="#222222" stroke-width="0.1" letter-spacing="0.8">(f)</text>
</svg>
</div></body></html>
